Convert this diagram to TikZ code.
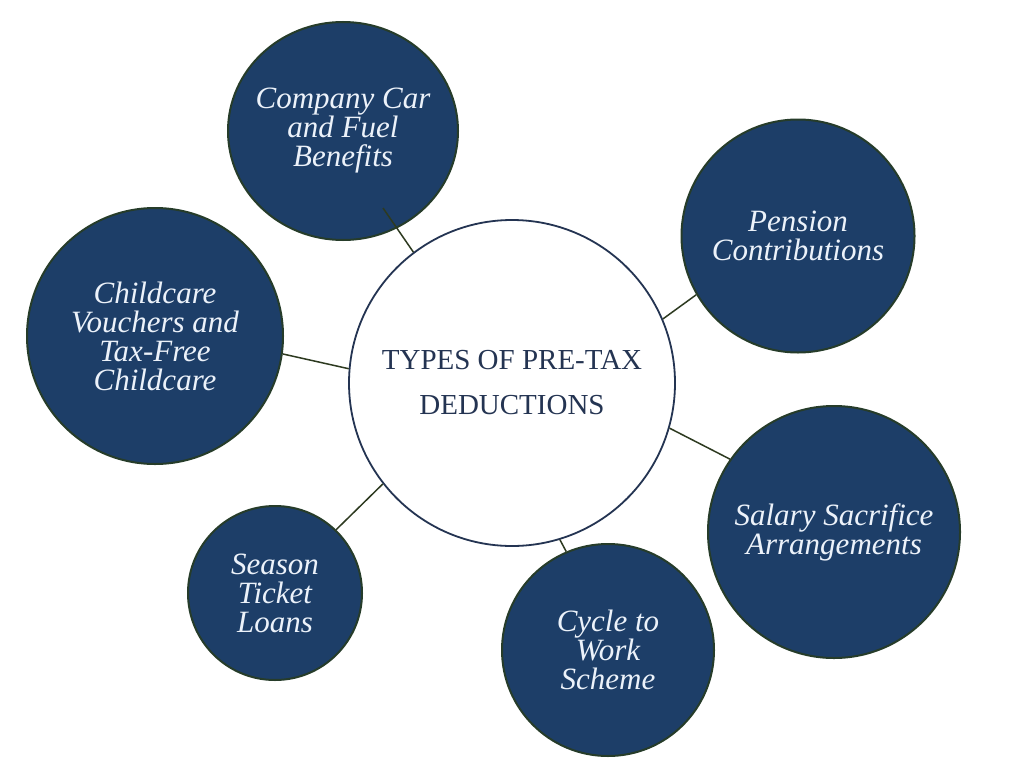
\documentclass[tikz,border=0pt]{standalone}
\usepackage{fontspec}
\setmainfont{Liberation Serif}
\usetikzlibrary{calc,shapes.geometric}
\definecolor{navy}{RGB}{29,62,104}
\definecolor{rimgreen}{RGB}{38,60,42}
\definecolor{linkgreen}{RGB}{45,58,32}
\definecolor{centerline}{RGB}{36,52,82}
\definecolor{lighttext}{RGB}{236,242,250}
\tikzset{
  itemtext/.style={inner sep=0pt, text=lighttext, align=center,
    font=\fontsize{31}{29}\selectfont\itshape},
  item/.style={circle, fill=navy, draw=rimgreen, line width=2pt, itemtext},
  hub/.style={circle, fill=white, draw=centerline, line width=1.8pt, inner sep=0pt,
    text=centerline, align=center, font=\fontsize{29}{45}\selectfont},
  link/.style={draw=linkgreen, line width=1.5pt}
}
\begin{document}
\begin{tikzpicture}[x=1pt, y=-1pt]
\useasboundingbox[fill=white] (0,0) rectangle (1024,768);
\node[hub, minimum size=326pt] (c) at (512,383) {TYPES OF PRE-TAX\\DEDUCTIONS};
\node[ellipse, fill=navy, draw=rimgreen, line width=2pt, inner sep=0pt,
  minimum width=230pt, minimum height=218pt] (car) at (343,131) {};
\node[itemtext] (cartext) at (car.center) {Company Car\\and Fuel\\Benefits};
\node[item, minimum size=233pt] (pen) at (798,236) {Pension\\Contributions};
\node[item, minimum size=256pt] (child) at (155,336) {Childcare\\Vouchers and\\Tax-Free\\Childcare};
\node[item, minimum size=252pt] (sal) at (834,532) {Salary Sacrifice\\Arrangements};
\node[item, minimum size=212pt] (cyc) at (608,650) {Cycle to\\Work\\Scheme};
\node[item, minimum size=174pt] (sea) at (275,593) {Season\\Ticket\\Loans};
\coordinate (carin) at (383,208);
\draw[link] (c.127) -- (carin);
\draw[link] (c.23) -- (pen.210);
\draw[link] (c.175) -- (child.-8);
\draw[link] (c.-16) -- (sal.145);
\draw[link] (c.218) -- (sea.46);
\draw[link] (c.-73) -- (cyc.113);
\end{tikzpicture}
\end{document}
